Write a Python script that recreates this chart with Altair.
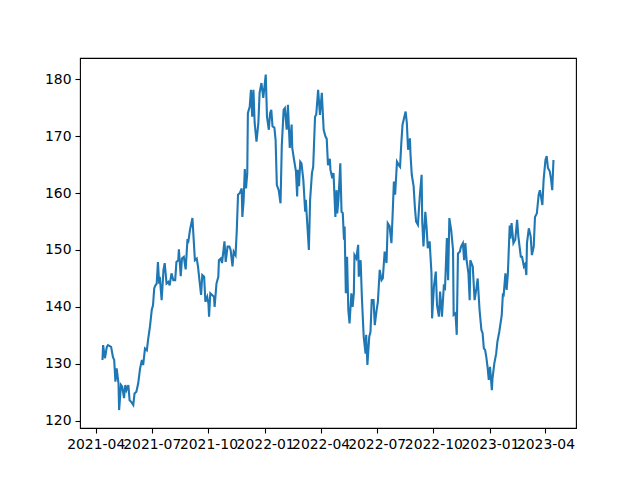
import altair as alt
import pandas as pd

day_offsets = [
    11, 12, 15, 18, 20, 25, 28, 30, 32, 34, 37, 38, 41, 43, 46, 48, 50, 53, 55, 58,
    61, 63, 66, 69, 72, 75, 77, 80, 83, 85, 88, 91, 93, 95, 97, 99, 101, 103, 104, 107,
    110, 112, 115, 118, 120, 123, 126, 129, 131, 134, 135, 138, 140, 143, 146, 149, 150, 153, 157, 161,
    164, 166, 169, 171, 173, 176, 178, 181, 183, 184, 186, 189, 192, 193, 196, 199, 200, 203, 205, 209,
    211, 214, 217, 219, 222, 224, 227, 229, 231, 234, 237, 238, 240, 242, 244, 246, 247, 250, 252, 254,
    256, 258, 261, 264, 266, 269, 272, 276, 278, 281, 283, 285, 287, 290, 292, 294, 297, 300, 302, 305,
    307, 310, 312, 315, 318, 319, 322, 325, 327, 328, 330, 332, 334, 337, 340, 341, 344, 346, 348, 351,
    353, 356, 358, 361, 364, 367, 370, 373, 375, 377, 380, 381, 384, 386, 389, 391, 392, 394, 397, 399,
    401, 403, 404, 406, 408, 410, 412, 415, 417, 419, 420, 423, 426, 427, 430, 432, 434, 435, 438, 439,
    441, 444, 446, 448, 451, 453, 456, 458, 461, 464, 466, 469, 472, 474, 477, 480, 482, 484, 486, 489,
    492, 494, 496, 498, 500, 503, 505, 507, 510, 511, 513, 516, 518, 520, 523, 526, 529, 530, 532, 535,
    537, 539, 542, 545, 546, 549, 552, 554, 557, 559, 562, 565, 567, 570, 572, 574, 577, 580, 581, 584,
    586, 588, 591, 593, 596, 598, 600, 602, 605, 607, 608, 612, 615, 618, 620, 623, 626, 628, 630, 632,
    634, 636, 638, 640, 643, 644, 647, 650, 652, 655, 659, 661, 662, 665, 667, 669, 672, 673, 675, 678,
    681, 684, 686, 690, 692, 695, 697, 699, 700, 703, 706, 708, 711, 713, 716, 719, 721, 725, 727, 730,
    732, 734, 737, 739, 741, 743,
]

prices = [
    130.7, 133.3, 131.0, 133.0, 133.3, 133.0, 131.2, 130.7, 126.9, 129.2, 126.6, 121.9, 126.3, 126.0, 124.0, 126.3, 125.4, 126.3, 123.6, 123.3,
    122.8, 124.8, 125.1, 126.6, 129.2, 130.7, 129.8, 132.7, 132.4, 134.2, 136.5, 139.5, 140.3, 143.3, 143.8, 144.1, 147.9, 144.1, 145.3, 141.2,
    146.5, 147.7, 144.1, 144.4, 143.8, 145.9, 144.7, 144.7, 147.9, 148.2, 150.1, 145.4, 148.5, 148.8, 146.6, 151.9, 151.2, 153.5, 155.6, 148.2,
    148.5, 147.1, 144.1, 142.1, 145.6, 145.3, 140.9, 141.8, 140.6, 138.3, 142.4, 142.1, 141.8, 140.0, 144.1, 145.3, 148.2, 148.5, 147.7, 151.5,
    147.9, 150.6, 150.6, 150.0, 147.1, 149.7, 149.1, 153.5, 159.7, 160.0, 160.8, 155.8, 158.5, 164.2, 160.8, 163.5, 174.0, 175.2, 178.1, 173.4,
    178.1, 172.3, 169.0, 172.3, 177.6, 179.3, 176.7, 180.8, 173.4, 171.1, 174.0, 174.6, 171.7, 171.5, 169.3, 161.4, 160.5, 158.2, 168.2, 174.6,
    174.9, 171.1, 175.5, 167.9, 172.0, 167.9, 165.8, 163.8, 159.4, 164.1, 161.2, 165.5, 165.2, 162.3, 156.7, 158.8, 153.5, 150.0, 158.8, 163.5,
    164.6, 173.4, 173.8, 178.1, 173.7, 177.6, 171.1, 169.9, 169.5, 164.9, 166.0, 164.1, 162.6, 163.5, 155.8, 160.5, 156.4, 158.8, 165.2, 156.7,
    156.5, 151.8, 154.1, 142.4, 148.8, 139.5, 137.1, 142.4, 140.0, 142.4, 149.1, 148.5, 150.9, 145.3, 148.2, 141.8, 137.1, 134.8, 131.8, 135.1,
    129.8, 134.8, 135.6, 141.2, 141.2, 136.8, 139.5, 140.9, 146.5, 144.7, 145.0, 149.7, 147.7, 154.7, 154.2, 151.2, 156.4, 162.0, 159.7, 165.5,
    164.9, 164.6, 168.7, 172.0, 172.9, 174.3, 172.3, 167.6, 169.6, 166.7, 163.2, 161.2, 157.6, 155.0, 154.4, 159.4, 163.2, 155.0, 150.6, 156.7,
    154.1, 150.3, 151.5, 145.9, 138.0, 143.6, 146.2, 140.3, 138.3, 142.7, 138.3, 143.6, 143.3, 152.1, 144.7, 155.6, 153.5, 150.0, 138.6, 138.9,
    135.1, 149.4, 149.7, 150.6, 151.2, 148.2, 151.2, 148.2, 145.9, 141.2, 148.2, 147.1, 141.2, 143.3, 145.0, 139.5, 136.0, 135.4, 132.7, 132.5,
    131.2, 129.5, 127.2, 129.5, 125.4, 127.4, 130.1, 131.8, 133.9, 135.6, 138.5, 142.4, 141.8, 145.9, 143.0, 145.9, 154.3, 152.0, 154.7, 151.2,
    151.8, 155.3, 152.4, 148.8, 148.8, 147.1, 147.5, 145.6, 151.2, 153.8, 152.4, 149.1, 150.6, 155.8, 156.4, 159.7, 160.5, 157.9, 162.3, 165.8,
    166.5, 164.4, 163.8, 162.5, 160.5, 165.8,
]

tick_dates = ["2021-04-01", "2021-07-01", "2021-10-01", "2022-01-01", "2022-04-01",
              "2022-07-01", "2022-10-01", "2023-01-01", "2023-04-01"]
y_ticks = [120, 130, 140, 150, 160, 170, 180]

assert len(day_offsets) == len(prices)

base = pd.Timestamp("2021-04-01")
df = pd.DataFrame({
    "date": [(base + pd.Timedelta(days=d)).strftime("%Y-%m-%d") for d in day_offsets],
    "price": prices,
})

tick_values = [alt.DateTime(year=int(s[:4]), month=int(s[5:7]), date=1, utc=True) for s in tick_dates]

FONT = "DejaVu Sans"
FS = 13.9

chart = alt.Chart(df).mark_line(color="#1f77b4", strokeWidth=2.1).encode(
    x=alt.X(
        "date:T",
        scale=alt.Scale(type="utc",
                        domain=[alt.DateTime(year=2021, month=3, date=6, hours=12, utc=True),
                                alt.DateTime(year=2023, month=5, date=20, hours=14, utc=True)]),
        axis=alt.Axis(values=tick_values, format="%Y-%m", title=None, grid=False,
                      domain=False, tickColor="black", tickSize=5, tickWidth=1.1,
                      labelColor="black", labelFont=FONT, labelFontSize=FS,
                      labelPadding=4, labelOverlap=False, labelFlush=False),
    ),
    y=alt.Y(
        "price:Q",
        scale=alt.Scale(domain=[118.75, 183.7], nice=False, zero=False),
        axis=alt.Axis(values=y_ticks, title=None, grid=False, domain=False,
                      tickColor="black", tickSize=5, tickWidth=1.1,
                      labelColor="black", labelFont=FONT, labelFontSize=FS,
                      labelPadding=4),
    ),
).properties(
    width=496,
    height=370,
    autosize=alt.AutoSizeParams(type="none"),
    padding={"left": 72, "top": 50, "right": 56, "bottom": 44},
).configure(
    background="white"
).configure_view(
    stroke="black", strokeWidth=1.1
)

chart.save("out.html", embed_options={"renderer": "svg", "actions": False})
